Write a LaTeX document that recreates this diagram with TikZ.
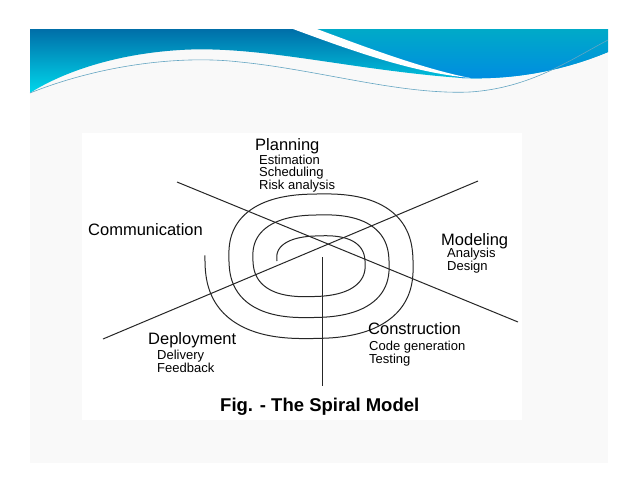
\documentclass[tikz,border=0pt]{standalone}
\usepackage{fontspec}
\setmainfont{Liberation Sans}
\definecolor{bTop}{RGB}{0,110,168}
\definecolor{bBot}{RGB}{0,215,235}
\definecolor{rTop}{RGB}{0,170,200}
\definecolor{rBot}{RGB}{0,140,225}
\begin{document}
\begin{tikzpicture}[x=1pt,y=-1pt,
  lbl/.style={anchor=north west,inner sep=0pt,font=\fontsize{16.5}{17}\selectfont},
  sub/.style={anchor=north west,inner sep=0pt,font=\fontsize{13}{12}\selectfont,align=left},
  ax/.style={line width=1pt,black!85}]
\useasboundingbox (0,0) rectangle (638,493);
\fill[white] (0,0) rectangle (638,493);
\fill[gray!5] (30,29) rectangle (608,463);
% banner
\shade[top color=bTop, bottom color=bBot]
 (30,29) -- (608,29) -- (608,52) .. controls (560,72) and (510,80) .. (462,78)
 .. controls (350,70) and (260,45) .. (180,50) .. controls (100,55) and (50,80) .. (30,93) -- cycle;
\shade[top color=rTop, bottom color=rBot] (317,29) -- (608,29) -- (608,52) .. controls (560,72) and (510,80) .. (462,78) .. controls (420,70) and (360,45) .. cycle;
\fill[white] (293,29) -- (317,29) .. controls (360,45) and (420,68) .. (470,78) .. controls (410,72) and (350,50) .. cycle;
\draw[cyan!50!gray,line width=0.6pt] (30,93) .. controls (100,65) and (180,55) .. (240,62) .. controls (320,70) and (400,95) .. (470,92) .. controls (530,88) and (570,60) .. (608,40);
% panel
\fill[white] (82,133) rectangle (522,420);
\coordinate (c) at (322,257);
\coordinate (ul) at (177,182);
\coordinate (lr) at (518,322);
\coordinate (ll) at (103,339);
\coordinate (ur) at (478,181);
\coordinate (dn) at (322,386);
\draw[ax] (ul) -- (lr);
\draw[ax] (ll) -- (ur);
\draw[ax] (c) -- (dn);
\draw[ax,smooth] plot[domain=180:1262,samples=260,variable=\t]
 ({315+(38+0.0667*(\t-180))*sign(cos(\t))*pow(abs(cos(\t)),0.8)},{261+(25+0.0583*(\t-270))*sign(sin(\t))*pow(abs(sin(\t)),0.8)});
\node[lbl] (pl) at (255,138) {Planning};
\node[sub] (pls) at (259,155) {Estimation\\Scheduling\\Risk analysis};
\node[lbl] (co) at (88,223) {Communication};
\node[lbl] (mo) at (441,233) {Modeling};
\node[sub] (mos) at (447,248) {Analysis\\Design};
\node[lbl] (cn) at (368,322) {Construction};
\node[sub] (cns) at (369,341) {Code generation\\Testing};
\node[lbl] (de) at (148,332) {Deployment};
\node[sub] (des) at (157,350) {Delivery\\Feedback};
\node[anchor=north west,inner sep=0pt,font=\bfseries\fontsize{18.5}{20}\selectfont] (fig) at (220,398) {Fig. - The Spiral Model};
\end{tikzpicture}
\end{document}
